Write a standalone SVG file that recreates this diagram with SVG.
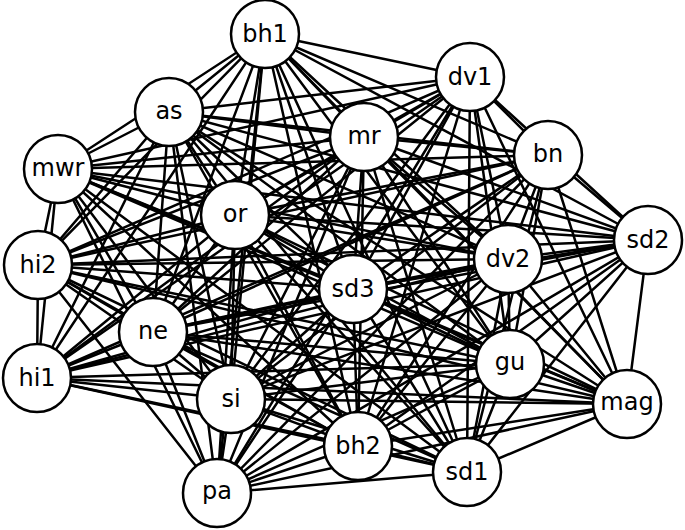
<svg xmlns="http://www.w3.org/2000/svg" width="685" height="530" viewBox="0 0 685 530">
<style>
.e line{stroke:#000;stroke-width:2.5;stroke-linecap:round}
.n circle{fill:#fff;stroke:#000;stroke-width:2.5}
.n text{font-family:"DejaVu Sans",sans-serif;font-size:24px;text-anchor:middle;fill:#000}
</style>
<rect width="685" height="530" fill="#fff"/>
<g id="edges" class="e">
<line x1="265" y1="34" x2="470" y2="77"/><line x1="265" y1="34" x2="169" y2="112"/><line x1="265" y1="34" x2="364" y2="137"/><line x1="265" y1="34" x2="548" y2="155"/><line x1="265" y1="34" x2="58" y2="169"/><line x1="265" y1="34" x2="235" y2="215"/><line x1="265" y1="34" x2="648" y2="240"/><line x1="265" y1="34" x2="38" y2="265"/><line x1="265" y1="34" x2="508" y2="259"/><line x1="265" y1="34" x2="353" y2="289"/><line x1="265" y1="34" x2="153" y2="332"/><line x1="265" y1="34" x2="510" y2="364"/><line x1="265" y1="34" x2="37" y2="378"/><line x1="265" y1="34" x2="231" y2="399"/><line x1="265" y1="34" x2="627" y2="404"/><line x1="265" y1="34" x2="358" y2="446"/><line x1="265" y1="34" x2="467" y2="472"/><line x1="265" y1="34" x2="217" y2="493"/>
<line x1="470" y1="77" x2="169" y2="112"/><line x1="470" y1="77" x2="364" y2="137"/><line x1="470" y1="77" x2="548" y2="155"/><line x1="470" y1="77" x2="58" y2="169"/><line x1="470" y1="77" x2="235" y2="215"/><line x1="470" y1="77" x2="648" y2="240"/><line x1="470" y1="77" x2="38" y2="265"/><line x1="470" y1="77" x2="508" y2="259"/><line x1="470" y1="77" x2="353" y2="289"/><line x1="470" y1="77" x2="153" y2="332"/><line x1="470" y1="77" x2="510" y2="364"/><line x1="470" y1="77" x2="37" y2="378"/><line x1="470" y1="77" x2="231" y2="399"/><line x1="470" y1="77" x2="627" y2="404"/><line x1="470" y1="77" x2="358" y2="446"/><line x1="470" y1="77" x2="467" y2="472"/><line x1="470" y1="77" x2="217" y2="493"/>
<line x1="169" y1="112" x2="364" y2="137"/><line x1="169" y1="112" x2="548" y2="155"/><line x1="169" y1="112" x2="58" y2="169"/><line x1="169" y1="112" x2="235" y2="215"/><line x1="169" y1="112" x2="648" y2="240"/><line x1="169" y1="112" x2="38" y2="265"/><line x1="169" y1="112" x2="508" y2="259"/><line x1="169" y1="112" x2="353" y2="289"/><line x1="169" y1="112" x2="153" y2="332"/><line x1="169" y1="112" x2="510" y2="364"/><line x1="169" y1="112" x2="37" y2="378"/><line x1="169" y1="112" x2="231" y2="399"/><line x1="169" y1="112" x2="627" y2="404"/><line x1="169" y1="112" x2="358" y2="446"/><line x1="169" y1="112" x2="467" y2="472"/><line x1="169" y1="112" x2="217" y2="493"/>
<line x1="364" y1="137" x2="548" y2="155"/><line x1="364" y1="137" x2="58" y2="169"/><line x1="364" y1="137" x2="235" y2="215"/><line x1="364" y1="137" x2="648" y2="240"/><line x1="364" y1="137" x2="38" y2="265"/><line x1="364" y1="137" x2="508" y2="259"/><line x1="364" y1="137" x2="353" y2="289"/><line x1="364" y1="137" x2="153" y2="332"/><line x1="364" y1="137" x2="510" y2="364"/><line x1="364" y1="137" x2="37" y2="378"/><line x1="364" y1="137" x2="231" y2="399"/><line x1="364" y1="137" x2="627" y2="404"/><line x1="364" y1="137" x2="358" y2="446"/><line x1="364" y1="137" x2="467" y2="472"/><line x1="364" y1="137" x2="217" y2="493"/>
<line x1="548" y1="155" x2="58" y2="169"/><line x1="548" y1="155" x2="235" y2="215"/><line x1="548" y1="155" x2="648" y2="240"/><line x1="548" y1="155" x2="38" y2="265"/><line x1="548" y1="155" x2="508" y2="259"/><line x1="548" y1="155" x2="353" y2="289"/><line x1="548" y1="155" x2="153" y2="332"/><line x1="548" y1="155" x2="510" y2="364"/><line x1="548" y1="155" x2="37" y2="378"/><line x1="548" y1="155" x2="231" y2="399"/><line x1="548" y1="155" x2="627" y2="404"/><line x1="548" y1="155" x2="358" y2="446"/><line x1="548" y1="155" x2="467" y2="472"/><line x1="548" y1="155" x2="217" y2="493"/>
<line x1="58" y1="169" x2="235" y2="215"/><line x1="58" y1="169" x2="648" y2="240"/><line x1="58" y1="169" x2="38" y2="265"/><line x1="58" y1="169" x2="508" y2="259"/><line x1="58" y1="169" x2="353" y2="289"/><line x1="58" y1="169" x2="153" y2="332"/><line x1="58" y1="169" x2="510" y2="364"/><line x1="58" y1="169" x2="37" y2="378"/><line x1="58" y1="169" x2="231" y2="399"/><line x1="58" y1="169" x2="627" y2="404"/><line x1="58" y1="169" x2="358" y2="446"/><line x1="58" y1="169" x2="467" y2="472"/><line x1="58" y1="169" x2="217" y2="493"/>
<line x1="235" y1="215" x2="648" y2="240"/><line x1="235" y1="215" x2="38" y2="265"/><line x1="235" y1="215" x2="508" y2="259"/><line x1="235" y1="215" x2="353" y2="289"/><line x1="235" y1="215" x2="153" y2="332"/><line x1="235" y1="215" x2="510" y2="364"/><line x1="235" y1="215" x2="37" y2="378"/><line x1="235" y1="215" x2="231" y2="399"/><line x1="235" y1="215" x2="627" y2="404"/><line x1="235" y1="215" x2="358" y2="446"/><line x1="235" y1="215" x2="467" y2="472"/><line x1="235" y1="215" x2="217" y2="493"/>
<line x1="648" y1="240" x2="38" y2="265"/><line x1="648" y1="240" x2="508" y2="259"/><line x1="648" y1="240" x2="353" y2="289"/><line x1="648" y1="240" x2="153" y2="332"/><line x1="648" y1="240" x2="510" y2="364"/><line x1="648" y1="240" x2="37" y2="378"/><line x1="648" y1="240" x2="231" y2="399"/><line x1="648" y1="240" x2="627" y2="404"/><line x1="648" y1="240" x2="358" y2="446"/><line x1="648" y1="240" x2="467" y2="472"/><line x1="648" y1="240" x2="217" y2="493"/>
<line x1="38" y1="265" x2="508" y2="259"/><line x1="38" y1="265" x2="353" y2="289"/><line x1="38" y1="265" x2="153" y2="332"/><line x1="38" y1="265" x2="510" y2="364"/><line x1="38" y1="265" x2="37" y2="378"/><line x1="38" y1="265" x2="231" y2="399"/><line x1="38" y1="265" x2="627" y2="404"/><line x1="38" y1="265" x2="358" y2="446"/><line x1="38" y1="265" x2="467" y2="472"/><line x1="38" y1="265" x2="217" y2="493"/>
<line x1="508" y1="259" x2="353" y2="289"/><line x1="508" y1="259" x2="153" y2="332"/><line x1="508" y1="259" x2="510" y2="364"/><line x1="508" y1="259" x2="37" y2="378"/><line x1="508" y1="259" x2="231" y2="399"/><line x1="508" y1="259" x2="627" y2="404"/><line x1="508" y1="259" x2="358" y2="446"/><line x1="508" y1="259" x2="467" y2="472"/><line x1="508" y1="259" x2="217" y2="493"/>
<line x1="353" y1="289" x2="153" y2="332"/><line x1="353" y1="289" x2="510" y2="364"/><line x1="353" y1="289" x2="37" y2="378"/><line x1="353" y1="289" x2="231" y2="399"/><line x1="353" y1="289" x2="627" y2="404"/><line x1="353" y1="289" x2="358" y2="446"/><line x1="353" y1="289" x2="467" y2="472"/><line x1="353" y1="289" x2="217" y2="493"/>
<line x1="153" y1="332" x2="510" y2="364"/><line x1="153" y1="332" x2="37" y2="378"/><line x1="153" y1="332" x2="231" y2="399"/><line x1="153" y1="332" x2="627" y2="404"/><line x1="153" y1="332" x2="358" y2="446"/><line x1="153" y1="332" x2="467" y2="472"/><line x1="153" y1="332" x2="217" y2="493"/>
<line x1="510" y1="364" x2="37" y2="378"/><line x1="510" y1="364" x2="231" y2="399"/><line x1="510" y1="364" x2="627" y2="404"/><line x1="510" y1="364" x2="358" y2="446"/><line x1="510" y1="364" x2="467" y2="472"/><line x1="510" y1="364" x2="217" y2="493"/>
<line x1="37" y1="378" x2="231" y2="399"/><line x1="37" y1="378" x2="627" y2="404"/><line x1="37" y1="378" x2="358" y2="446"/><line x1="37" y1="378" x2="467" y2="472"/>
<line x1="231" y1="399" x2="627" y2="404"/><line x1="231" y1="399" x2="358" y2="446"/><line x1="231" y1="399" x2="467" y2="472"/><line x1="231" y1="399" x2="217" y2="493"/>
<line x1="627" y1="404" x2="358" y2="446"/><line x1="627" y1="404" x2="467" y2="472"/><line x1="627" y1="404" x2="217" y2="493"/>
<line x1="358" y1="446" x2="467" y2="472"/><line x1="358" y1="446" x2="217" y2="493"/>
<line x1="467" y1="472" x2="217" y2="493"/>
</g>
<g id="bh1" class="n"><circle cx="265" cy="34" r="34"/><text x="265" y="42">bh1</text></g>
<g id="dv1" class="n"><circle cx="470" cy="77" r="34"/><text x="470" y="85">dv1</text></g>
<g id="as" class="n"><circle cx="169" cy="112" r="34"/><text x="169" y="119">as</text></g>
<g id="mr" class="n"><circle cx="364" cy="137" r="34"/><text x="364" y="144">mr</text></g>
<g id="bn" class="n"><circle cx="548" cy="155" r="34"/><text x="548" y="162">bn</text></g>
<g id="mwr" class="n"><circle cx="58" cy="169" r="34"/><text x="58" y="176">mwr</text></g>
<g id="or" class="n"><circle cx="235" cy="215" r="34"/><text x="235" y="222">or</text></g>
<g id="sd2" class="n"><circle cx="648" cy="240" r="34"/><text x="648" y="248">sd2</text></g>
<g id="hi2" class="n"><circle cx="38" cy="265" r="34"/><text x="38" y="273">hi2</text></g>
<g id="dv2" class="n"><circle cx="508" cy="259" r="34"/><text x="508" y="267">dv2</text></g>
<g id="sd3" class="n"><circle cx="353" cy="289" r="34"/><text x="353" y="297">sd3</text></g>
<g id="ne" class="n"><circle cx="153" cy="332" r="34"/><text x="153" y="339">ne</text></g>
<g id="gu" class="n"><circle cx="510" cy="364" r="34"/><text x="510" y="370">gu</text></g>
<g id="hi1" class="n"><circle cx="37" cy="378" r="34"/><text x="37" y="386">hi1</text></g>
<g id="si" class="n"><circle cx="231" cy="399" r="34"/><text x="231" y="407">si</text></g>
<g id="mag" class="n"><circle cx="627" cy="404" r="34"/><text x="627" y="410">mag</text></g>
<g id="bh2" class="n"><circle cx="358" cy="446" r="34"/><text x="358" y="454">bh2</text></g>
<g id="sd1" class="n"><circle cx="467" cy="472" r="34"/><text x="467" y="480">sd1</text></g>
<g id="pa" class="n"><circle cx="217" cy="493" r="34"/><text x="217" y="499">pa</text></g>
</svg>
